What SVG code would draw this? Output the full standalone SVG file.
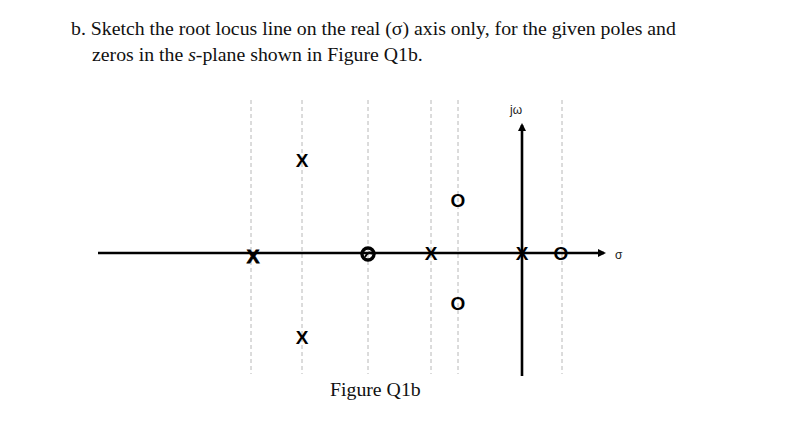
<svg xmlns="http://www.w3.org/2000/svg" width="812" height="432" viewBox="0 0 812 432">
<style>
.q{font-family:"Liberation Serif","Times New Roman",serif;font-size:19.8px;fill:#111}
.grid{stroke:#b8b8b8;stroke-width:1;stroke-dasharray:4 3}
.ax{stroke:#000;stroke-width:2.6;fill:none}
.mk{font-family:"Liberation Sans",Arial,sans-serif;font-weight:bold;font-size:19px;fill:#000;text-anchor:middle}
.lb{font-family:"Liberation Sans",Arial,sans-serif;font-size:12px;fill:#222}
</style>
<defs>
<marker id="ah" markerWidth="8" markerHeight="8" refX="6" refY="4" orient="auto" markerUnits="userSpaceOnUse">
<path d="M0,0 L8,4 L0,8 Z" fill="#000"/>
</marker>
</defs>
<rect width="812" height="432" fill="#fff"/>
<text class="q" x="71" y="35">b. Sketch the root locus line on the real (σ) axis only, for the given poles and</text>
<text class="q" x="92" y="61">zeros in the <tspan font-style="italic">s</tspan>-plane shown in Figure Q1b.</text>
<g id="grid">
<line class="grid" x1="251" y1="100" x2="251" y2="374"/>
<line class="grid" x1="302" y1="100" x2="302" y2="374"/>
<line class="grid" x1="368" y1="100" x2="368" y2="374"/>
<line class="grid" x1="431" y1="100" x2="431" y2="374"/>
<line class="grid" x1="458" y1="100" x2="458" y2="374"/>
<line class="grid" x1="562" y1="100" x2="562" y2="374"/>
</g>
<g id="connectors">
<line class="ax" x1="98" y1="253" x2="604" y2="253" marker-end="url(#ah)"/>
<line class="ax" x1="522" y1="376" x2="522" y2="125" marker-end="url(#ah)"/>
</g>
<text class="lb" x="615" y="259">σ</text>
<text class="lb" x="510" y="114">jω</text>
<g id="p1"><text class="mk" x="253" y="263" stroke="#000" stroke-width="0.8">X</text></g>
<g id="p2"><text class="mk" x="302" y="167">X</text></g>
<g id="p3"><text class="mk" x="302" y="344">X</text></g>
<g id="z1"><circle cx="368" cy="254" r="6" fill="none" stroke="#000" stroke-width="3.4"/><path d="M365,257 Q369,250 372,254" stroke="#000" stroke-width="2" fill="none"/></g>
<g id="p4"><text class="mk" x="431" y="260">X</text></g>
<g id="z2"><text class="mk" x="458" y="207">O</text></g>
<g id="z3"><text class="mk" x="458" y="310">O</text></g>
<g id="p5"><text class="mk" x="522" y="260">X</text></g>
<g id="z4"><text class="mk" x="561" y="260">O</text></g>
<text class="q" x="330" y="396">Figure Q1b</text>
</svg>
